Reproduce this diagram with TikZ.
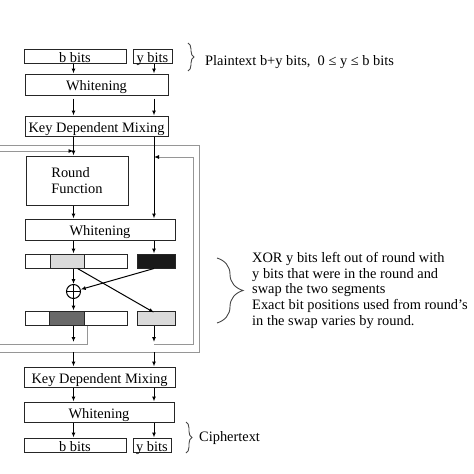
\documentclass[tikz,border=0pt]{standalone}
\usepackage{fontspec}
\setmainfont{Liberation Serif}
\usetikzlibrary{arrows.meta,decorations.pathreplacing,calc}
\definecolor{loopc}{RGB}{150,150,150}
\definecolor{lightg}{RGB}{218,218,218}
\definecolor{darkg}{RGB}{105,105,105}
\definecolor{bracec}{RGB}{70,70,70}
\begin{document}
\begin{tikzpicture}[x=1pt,y=-1pt,
  font=\fontsize{14.4}{15.8}\selectfont,
  box/.style={draw=black!85, line width=1pt, inner sep=0pt, text height=12pt, text depth=0pt},
  bitbox/.style={draw=black!85, line width=1pt, inner sep=0pt, text height=13.5pt, text depth=0pt, minimum height=14pt},
  plainbox/.style={draw=black!85, line width=1pt, inner sep=0pt},
  arr/.style={line width=1pt, -{Latex[length=5pt,width=4pt]}},
  gloop/.style={draw=loopc, line width=0.9pt, -{Latex[length=5pt,width=4pt,color=black]}},
  brc/.style={draw=bracec, line width=0.9pt, decorate, decoration={brace, amplitude=#1}},
  note/.style={anchor=base west, inner sep=0pt}
]
\useasboundingbox (0,0) rectangle (474,474);
\clip (0,0) rectangle (474,474);
\coordinate (xL) at (73.5,0);
\coordinate (xR) at (154,0);

% outer round frame
\node[draw=loopc, line width=0.9pt, inner sep=0pt, minimum width=207pt, minimum height=207pt] (outer) at (95.5,248.5) {};

% plaintext
\node[bitbox, minimum width=102pt] (pb) at (75,56) {b bits};
\node[bitbox, minimum width=39pt] (py) at (152.5,56) {y bits};
\node[box, minimum width=143pt, minimum height=21pt] (w1) at (96.5,84.5) {Whitening};
\node[box, minimum width=143pt, minimum height=20pt] (k1) at (96.5,126) {Key Dependent Mixing};

% round
\node[plainbox, minimum width=102pt, minimum height=49pt, align=left] (rf) at (77,180.5) {Round\\Function};
\node[box, minimum width=150pt, minimum height=21pt] (w2) at (100,229.5) {Whitening};

\node[plainbox, minimum width=102pt, minimum height=14pt] (r1a) at (76,261) {};
\node[plainbox, fill=lightg, minimum width=34pt, minimum height=14pt] (g1) at (67,261) {};
\node[plainbox, fill=black!90, minimum width=38pt, minimum height=14pt] (r1b) at (156,261) {};

\node[draw, line width=1pt, circle, inner sep=0pt, minimum size=14pt,
  path picture={\draw[line width=1pt] (path picture bounding box.north) -- (path picture bounding box.south)
     (path picture bounding box.west) -- (path picture bounding box.east);}] (xor) at (73.5,291.5) {};

\node[plainbox, minimum width=102pt, minimum height=14pt] (r2a) at (76,318) {};
\node[plainbox, fill=darkg, minimum width=35pt, minimum height=14pt] (g2) at (66.5,318) {};
\node[plainbox, fill=lightg, minimum width=38pt, minimum height=14pt] (r2b) at (156,318) {};

% after rounds
\node[box, minimum width=151pt, minimum height=20pt] (k2) at (99.5,377) {Key Dependent Mixing};
\node[box, minimum width=150pt, minimum height=20pt] (w3) at (99,412) {Whitening};
\node[bitbox, minimum width=102pt] (cb) at (75,445) {b bits};
\node[bitbox, minimum width=38pt] (cy) at (152,445) {y bits};

% connectors
\draw[arr] (pb.south -| xL) -- (w1.north -| xL);
\draw[arr] (py.south -| xR) -- (w1.north -| xR);
\draw[arr, shorten <=3pt] (w1.south -| xL) -- (k1.north -| xL);
\draw[arr, shorten <=3pt] (w1.south -| xR) -- (k1.north -| xR);
\draw[arr] (k1.south -| xL) -- (rf.north -| xL);
\draw[arr] (k1.south -| xR) -- (w2.north -| xR);
\draw[arr] (rf.south -| xL) -- (w2.north -| xL);
\draw[arr] (w2.south -| xL) -- (r1a.north -| xL);
\draw[arr] (w2.south -| xR) -- (r1b.north -| xR);
\draw[arr] (g1.south -| xL) -- (xor);
\draw[arr] (r1b.south -| xR) -- (xor);
\draw[arr] ($(g1.south)!0.6!(g1.south east)$) -- ([yshift=-2pt]r2b.north -| xR);
\draw[arr] (xor) -- (g2.north -| xL);

\coordinate (eL) at (73.5,342);
\coordinate (eR) at (154,342);
\draw[arr] (g2.south -| xL) -- (eL);
\draw[arr] (r2b.south -| xR) -- (eR);

% feedback loops
\coordinate (inL) at (73.5,151);
\coordinate (inR) at (154,157);
\coordinate (lR) at (154,344);
\draw[gloop] (r2a.south -| 87,0) |- (-3,344) |- (inL);
\draw[gloop] (lR) -| (193,157) -- (inR);

\draw[arr] (outer.south -| xL) -- (k2.north -| xL);
\draw[arr] (outer.south -| xR) -- (k2.north -| xR);
\draw[arr] (k2.south -| xL) -- (w3.north -| xL);
\draw[arr] (k2.south -| xR) -- (w3.north -| xR);
\draw[arr] (w3.south -| xL) -- (cb.north -| xL);
\draw[arr] (w3.south -| xR) -- (cy.north -| xR);

% annotations
\draw[brc=6pt] (188,43) -- (188,71);
\node[note] (ptxt) at (205,65) {Plaintext b+y bits,\ \ 0 ≤ y ≤ b bits};
\draw[brc=26pt] (217,258) -- (217,323);
\node[anchor=north west, inner sep=0pt, align=left] (xtxt) at (252,252) {XOR y bits left out of round with\\y bits that were in the round and\\swap the two segments\\Exact bit positions used from round’s\\in the swap varies by round.};
\draw[brc=6pt] (186,422) -- (186,453);
\node[note] (ctxt) at (199,441) {Ciphertext};
\end{tikzpicture}
\end{document}
